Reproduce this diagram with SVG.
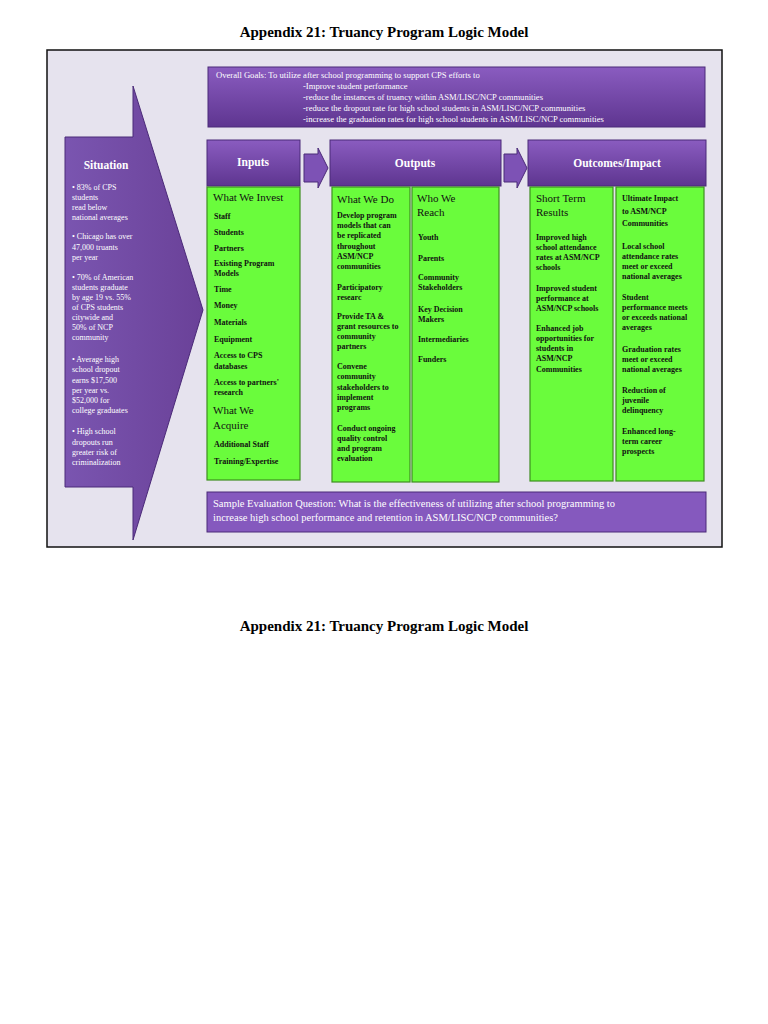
<svg xmlns="http://www.w3.org/2000/svg" width="768" height="1024" viewBox="0 0 768 1024">
<defs>
<linearGradient id="pg" x1="0" y1="0" x2="0" y2="1"><stop offset="0" stop-color="#8a5cc0"/><stop offset="1" stop-color="#5e3590"/></linearGradient>
<linearGradient id="sg" x1="0" y1="0" x2="1" y2="0"><stop offset="0" stop-color="#7a55b0"/><stop offset="1" stop-color="#6a4198"/></linearGradient>
</defs>
<style>
.t{font-family:"Liberation Serif",serif;font-weight:bold;font-size:15px;fill:#000}
.hd{font-family:"Liberation Serif",serif;font-weight:bold;font-size:11.5px;fill:#fff}
.w{font-family:"Liberation Serif",serif;font-size:8px;fill:#fff}
.gl{font-family:"Liberation Serif",serif;font-size:8.6px;fill:#fff}
.g{font-family:"Liberation Serif",serif;font-weight:bold;font-size:8px;fill:#111}
.gh{font-family:"Liberation Serif",serif;font-size:11px;fill:#111}
.purple{fill:url(#pg);stroke:#4b2a78;stroke-width:1}
.green{fill:#6afc3c;stroke:#3e8e20;stroke-width:1.2}
.q{font-family:"Liberation Serif",serif;font-size:10.5px;fill:#fff}
</style>
<rect width="768" height="1024" fill="#fff"/>
<text class="t" x="384" y="37" text-anchor="middle">Appendix 21: Truancy Program Logic Model</text>
<text class="t" x="384" y="631" text-anchor="middle">Appendix 21: Truancy Program Logic Model</text>
<rect x="47" y="50" width="675" height="497" fill="#e6e3ee" stroke="#111" stroke-width="1.5"/>
<g id="situation">
<polygon points="65,137 133,137 133,86 203,310 133,540 133,487 65,487" fill="url(#sg)" stroke="#4b2a78"/>
<text class="hd" x="106" y="169" text-anchor="middle">Situation</text>
<text class="w"><tspan x="72" y="190">• 83% of CPS</tspan><tspan x="72" y="200">students</tspan><tspan x="72" y="210">read below</tspan><tspan x="72" y="220">national averages</tspan>
<tspan x="72" y="239">• Chicago has over</tspan><tspan x="72" y="250">47,000 truants</tspan><tspan x="72" y="260">per year</tspan>
<tspan x="72" y="280">• 70% of American</tspan><tspan x="72" y="290">students graduate</tspan><tspan x="72" y="300">by age 19 vs. 55%</tspan><tspan x="72" y="310">of CPS students</tspan><tspan x="72" y="320">citywide and</tspan><tspan x="72" y="330">50% of NCP</tspan><tspan x="72" y="340">community</tspan>
<tspan x="72" y="362">• Average high</tspan><tspan x="72" y="372">school dropout</tspan><tspan x="72" y="383">earns $17,500</tspan><tspan x="72" y="393">per year vs.</tspan><tspan x="72" y="403">$52,000 for</tspan><tspan x="72" y="413">college graduates</tspan>
<tspan x="72" y="434">• High school</tspan><tspan x="72" y="445">dropouts run</tspan><tspan x="72" y="455">greater risk of</tspan><tspan x="72" y="465">criminalization</tspan></text>
</g>
<g id="goals">
<rect class="purple" x="208" y="67" width="497" height="60"/>
<text class="gl"><tspan x="216" y="78">Overall Goals: To utilize after school programming to support CPS efforts to</tspan><tspan x="303" y="89">-Improve student performance</tspan><tspan x="303" y="100">-reduce the instances of truancy within ASM/LISC/NCP communities</tspan><tspan x="303" y="111">-reduce the dropout rate for high school students in ASM/LISC/NCP communities</tspan><tspan x="303" y="122">-increase the graduation rates for high school students in ASM/LISC/NCP communities</tspan></text>
</g>
<g id="connectors">
<polygon points="304,154 318,154 318,148 328,168 318,188 318,182 304,182" fill="#7d52b5" stroke="#4b2a78"/>
<polygon points="504,154 517,154 517,148 527,168 517,188 517,182 504,182" fill="#7d52b5" stroke="#4b2a78"/>
</g>
<g id="inputs">
<rect class="purple" x="207" y="140" width="93" height="46"/>
<text class="hd" x="253" y="166" text-anchor="middle">Inputs</text>
<rect class="green" x="207" y="187" width="93" height="293"/>
<text class="gh" x="213" y="201">What We Invest</text>
<text class="g"><tspan x="214" y="219">Staff</tspan><tspan x="214" y="235">Students</tspan><tspan x="214" y="251">Partners</tspan><tspan x="214" y="266">Existing Program</tspan><tspan x="214" y="276">Models</tspan><tspan x="214" y="292">Time</tspan><tspan x="214" y="308">Money</tspan><tspan x="214" y="325">Materials</tspan><tspan x="214" y="342">Equipment</tspan><tspan x="214" y="358">Access to CPS</tspan><tspan x="214" y="369">databases</tspan><tspan x="214" y="385">Access to partners'</tspan><tspan x="214" y="395">research</tspan><tspan x="214" y="447">Additional Staff</tspan><tspan x="214" y="464">Training/Expertise</tspan></text>
<text class="gh"><tspan x="213" y="414">What We</tspan><tspan x="213" y="429">Acquire</tspan></text>
</g>
<g id="outputs">
<rect class="purple" x="330" y="140" width="171" height="46"/>
<text class="hd" x="415" y="167" text-anchor="middle" font-size="10">Outputs</text>
<rect class="green" x="332" y="187" width="78" height="295"/>
<rect class="green" x="412" y="187" width="87" height="295"/>
<text class="gh" x="337" y="203">What We Do</text>
<text class="g"><tspan x="337" y="218">Develop program</tspan><tspan x="337" y="228">models that can</tspan><tspan x="337" y="238">be replicated</tspan><tspan x="337" y="249">throughout</tspan><tspan x="337" y="259">ASM/NCP</tspan><tspan x="337" y="269">communities</tspan><tspan x="337" y="290">Participatory</tspan><tspan x="337" y="300">researc</tspan><tspan x="337" y="319">Provide TA &amp;</tspan><tspan x="337" y="329">grant resources to</tspan><tspan x="337" y="339">community</tspan><tspan x="337" y="349">partners</tspan><tspan x="337" y="369">Convene</tspan><tspan x="337" y="379">community</tspan><tspan x="337" y="390">stakeholders to</tspan><tspan x="337" y="400">implement</tspan><tspan x="337" y="410">programs</tspan><tspan x="337" y="431">Conduct ongoing</tspan><tspan x="337" y="441">quality control</tspan><tspan x="337" y="451">and program</tspan><tspan x="337" y="461">evaluation</tspan></text>
<text class="gh"><tspan x="417" y="202">Who We</tspan><tspan x="417" y="216">Reach</tspan></text>
<text class="g"><tspan x="418" y="240">Youth</tspan><tspan x="418" y="261">Parents</tspan><tspan x="418" y="280">Community</tspan><tspan x="418" y="290">Stakeholders</tspan><tspan x="418" y="312">Key Decision</tspan><tspan x="418" y="322">Makers</tspan><tspan x="418" y="342">Intermediaries</tspan><tspan x="418" y="362">Funders</tspan></text>
</g>
<g id="outcomes">
<rect class="purple" x="528" y="140" width="178" height="46"/>
<text class="hd" x="617" y="167" text-anchor="middle">Outcomes/Impact</text>
<rect class="green" x="530" y="187" width="83" height="294"/>
<rect class="green" x="616" y="187" width="88" height="294"/>
<text class="gh"><tspan x="536" y="202">Short Term</tspan><tspan x="536" y="216">Results</tspan></text>
<text class="g"><tspan x="536" y="240">Improved high</tspan><tspan x="536" y="250">school attendance</tspan><tspan x="536" y="260">rates at ASM/NCP</tspan><tspan x="536" y="270">schools</tspan><tspan x="536" y="291">Improved student</tspan><tspan x="536" y="301">performance at</tspan><tspan x="536" y="311">ASM/NCP schools</tspan><tspan x="536" y="331">Enhanced job</tspan><tspan x="536" y="341">opportunities for</tspan><tspan x="536" y="351">students in</tspan><tspan x="536" y="361">ASM/NCP</tspan><tspan x="536" y="372">Communities</tspan></text>
<text class="g" font-size="9.5"><tspan x="622" y="201">Ultimate Impact</tspan><tspan x="622" y="214">to ASM/NCP</tspan><tspan x="622" y="226">Communities</tspan></text>
<text class="g"><tspan x="622" y="249">Local school</tspan><tspan x="622" y="259">attendance rates</tspan><tspan x="622" y="269">meet or exceed</tspan><tspan x="622" y="279">national averages</tspan><tspan x="622" y="300">Student</tspan><tspan x="622" y="310">performance meets</tspan><tspan x="622" y="320">or exceeds national</tspan><tspan x="622" y="330">averages</tspan><tspan x="622" y="352">Graduation rates</tspan><tspan x="622" y="362">meet or exceed</tspan><tspan x="622" y="372">national averages</tspan><tspan x="622" y="393">Reduction of</tspan><tspan x="622" y="403">juvenile</tspan><tspan x="622" y="413">delinquency</tspan><tspan x="622" y="434">Enhanced long-</tspan><tspan x="622" y="444">term career</tspan><tspan x="622" y="454">prospects</tspan></text>
</g>
<g id="question">
<rect x="207" y="492" width="499" height="40" fill="#8559be" stroke="#4b2a78"/>
<text class="q"><tspan x="213" y="507">Sample Evaluation Question:  What is the effectiveness of utilizing after school programming to</tspan><tspan x="213" y="521">increase high school performance and retention in ASM/LISC/NCP communities?</tspan></text>
</g>
</svg>
